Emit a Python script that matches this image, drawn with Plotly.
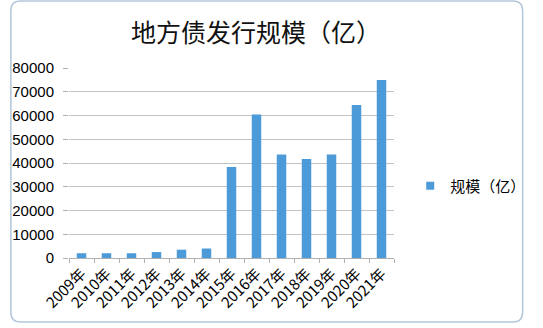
import plotly.graph_objects as go

categories = ["2009年", "2010年", "2011年", "2012年", "2013年", "2014年", "2015年",
              "2016年", "2017年", "2018年", "2019年", "2020年", "2021年"]
values = [2000, 2000, 2000, 2500, 3500, 4000, 38351, 60458, 43581, 41652, 43624, 64438, 74898]
series_name = "规模（亿）"
title_text = "地方债发行规模（亿）"
y_ticks = [0, 10000, 20000, 30000, 40000, 50000, 60000, 70000, 80000]
y_tick_text = ["0", "10000", "20000", "30000", "40000", "50000", "60000", "70000", "80000"]

W, H = 543, 328
L, R, T, B = 62, 140, 68, 70
pw, ph = W - L - R, H - T - B
BAR_COLOR = "#4d9ad8"

def px_x(x):
    return (x - L) / pw

def px_y(y):
    return (H - B - y) / ph

fig = go.Figure()
fig.add_trace(go.Bar(
    x=categories, y=values, name=series_name,
    marker=dict(color=BAR_COLOR, line=dict(width=0)),
    showlegend=False, legendgroup="s",
))
# legend entry for the bar series (small square swatch)
fig.add_trace(go.Scatter(
    x=[None], y=[None], mode="markers", name=series_name, legendgroup="s",
    marker=dict(symbol="square", size=8, color=BAR_COLOR),
    showlegend=True,
))

# rounded border path (pixel -> paper)
x0, y0, x1, y1, r = 1, 1, 538, 322, 10
path = (f"M {px_x(x0+r)},{px_y(y0)} L {px_x(x1-r)},{px_y(y0)} "
        f"Q {px_x(x1)},{px_y(y0)} {px_x(x1)},{px_y(y0+r)} "
        f"L {px_x(x1)},{px_y(y1-r)} Q {px_x(x1)},{px_y(y1)} {px_x(x1-r)},{px_y(y1)} "
        f"L {px_x(x0+r)},{px_y(y1)} Q {px_x(x0)},{px_y(y1)} {px_x(x0)},{px_y(y1-r)} "
        f"L {px_x(x0)},{px_y(y0+r)} Q {px_x(x0)},{px_y(y0)} {px_x(x0+r)},{px_y(y0)} Z")

fig.update_layout(
    width=W, height=H,
    margin=dict(l=L, r=R, t=T, b=B),
    paper_bgcolor="#ffffff", plot_bgcolor="#ffffff",
    font=dict(family="Noto Sans CJK SC, sans-serif", color="#000000"),
    title=dict(text=title_text, x=256 / W, xanchor="center", xref="container",
               y=1 - 33 / H, yanchor="middle", yref="container",
               font=dict(size=25, family="Noto Sans CJK SC", color="#111111")),
    bargap=0.62,
    xaxis=dict(
        showgrid=False, showline=True, linecolor="#b0b0b0", linewidth=1,
        ticks="outside", tickson="boundaries", ticklen=4, tickcolor="#b0b0b0",
        tickangle=-45, tickfont=dict(size=15, family="Noto Sans CJK SC"),
    ),
    yaxis=dict(
        range=[0, 80000], tickvals=y_ticks, ticktext=y_tick_text,
        showgrid=True, gridcolor="#c4c4c4",
        gridwidth=1.3, zeroline=False, showline=False,
        ticks="outside", ticklen=5, tickcolor="#b0b0b0", ticklabelstandoff=6,
        tickfont=dict(size=15, family="Liberation Sans"),
    ),
    legend=dict(x=px_x(420), y=px_y(186), xanchor="left", yanchor="middle",
                font=dict(size=15, family="Noto Sans CJK SC"),
                itemwidth=30, bgcolor="rgba(0,0,0,0)"),
    shapes=[dict(type="path", path=path, xref="paper", yref="paper",
                 line=dict(color="#b4c6dc", width=1.5), layer="below")],
)

fig.write_html("out.html")
